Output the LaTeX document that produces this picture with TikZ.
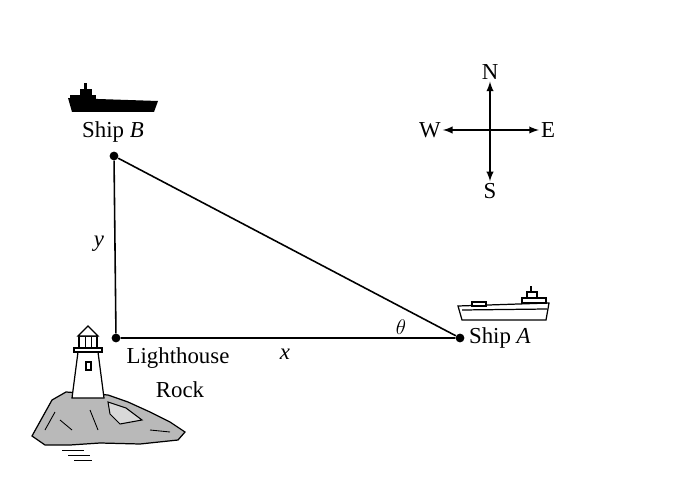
\documentclass[tikz,border=0pt]{standalone}
\usepackage{fontspec}
\setmainfont{Liberation Serif}
\begin{document}
\begin{tikzpicture}[x=0.02cm,y=-0.02cm,
  lbl/.style={font=\fontsize{13}{15}\selectfont, inner sep=1pt},
  dot/.style={circle,fill=black,inner sep=0pt,minimum size=5pt},
  edge/.style={line width=0.9pt},
  carrow/.style={-latex,line width=0.9pt}]
\useasboundingbox (0,0) rectangle (679,496);
\node[dot] (B) at (114,156) {};
\node[dot] (L) at (116,338) {};
\node[dot] (A) at (460,338) {};
\draw[edge] (B) -- (L) -- (A) -- (B);
\node[lbl] (lb) at (113,132) {Ship \textit{B}};
\node[lbl] (ly) at (99,244) {\textit{y}};
\node[lbl] (lx) at (285,354) {\textit{x}};
\node[lbl] (lt) at (401,327) {$\theta$};
\node[lbl,anchor=west] (la) at (467,338) {Ship \textit{A}};
\node[lbl] (ll1) at (178,358) {Lighthouse};
\node[lbl] (ll2) at (180,390) {Rock};
% compass
\coordinate (C) at (490,130);
\node[lbl] (N) at (490,72) {N};
\node[lbl] (S) at (490,191) {S};
\node[lbl] (W) at (430,130) {W};
\node[lbl] (E) at (548,130) {E};
\draw[carrow] (C) -- (N);
\draw[carrow] (C) -- (S);
\draw[carrow] (C) -- (W);
\draw[carrow] (C) -- (E);
% ship B (black silhouette)
\fill (68,98) -- (158,101) -- (154,112) -- (72,112) -- cycle;
\fill (70,95) rectangle (96,99);
\fill (80,89) rectangle (92,96);
\fill (84,83) rectangle (87,89);
% ship A (white outline)
\draw[line width=0.7pt,fill=white] (458,306) -- (549,303) -- (546,320) -- (462,320) -- cycle;
\draw[line width=0.7pt] (462,310) -- (547,309);
\draw[line width=0.7pt,fill=white] (522,303) rectangle (546,298);
\draw[line width=0.7pt,fill=white] (527,298) rectangle (537,292);
\draw[line width=0.7pt] (531,292) -- (531,286);
\draw[line width=0.7pt,fill=white] (472,306) rectangle (486,302);
% lighthouse rock
\draw[line width=0.7pt,fill=gray!55] (32,436) -- (42,418) -- (52,400) -- (66,392) -- (108,395) -- (128,402) -- (150,412) -- (170,422) -- (185,432) -- (178,440) -- (140,444) -- (100,443) -- (70,445) -- (45,445) -- cycle;
\draw[line width=0.6pt,fill=gray!30] (108,402) -- (126,408) -- (142,420) -- (120,424) -- (110,414) -- cycle;
\draw[line width=0.5pt] (60,420) -- (72,430) (90,410) -- (98,430) (150,430) -- (170,432) (45,430) -- (55,412);
\draw[line width=0.5pt] (62,450) -- (84,450) (68,455) -- (90,455) (74,460) -- (92,460);
% lighthouse tower
\draw[line width=0.7pt,fill=white] (72,398) -- (78,352) -- (98,352) -- (104,398) -- cycle;
\draw[line width=0.7pt,fill=white] (74,352) rectangle (102,348);
\draw[line width=0.7pt,fill=white] (79,348) rectangle (97,336);
\draw[line width=0.5pt] (85,348) -- (85,336) (91,348) -- (91,336);
\draw[line width=0.7pt,fill=white] (78,336) -- (88,326) -- (98,336) -- cycle;
\draw[line width=0.6pt] (86,362) rectangle (91,370);
\end{tikzpicture}
\end{document}
